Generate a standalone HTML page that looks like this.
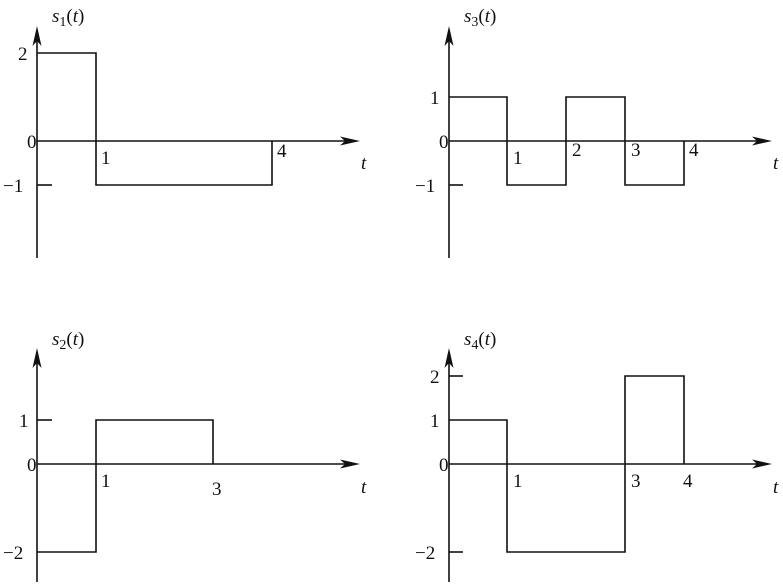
<!DOCTYPE html>
<html><head><meta charset="utf-8"><style>
html,body{margin:0;padding:0;background:#fff;}
svg{display:block}
</style></head><body>
<svg width="783" height="586" viewBox="0 0 783 586" xmlns="http://www.w3.org/2000/svg" font-family="Liberation Serif, serif" font-size="19" fill="#111">
<defs>
<g id="arrR"><path d="M0,0 L-20,-4.5 L-15,0 L-20,4.5 Z" fill="#111"/></g>
<g id="arrU"><path d="M0,0 L-4.5,20 L0,15 L4.5,20 Z" fill="#111"/></g>
</defs>
<g stroke="#111" stroke-width="1.6" fill="none">
<line x1="37" y1="258" x2="37" y2="30"/><line x1="37" y1="141" x2="345" y2="141"/>
<line x1="37" y1="185" x2="52" y2="185"/>
<polyline points="37,53 96,53 96,185 272,185 272,141"/>
<line x1="449" y1="258" x2="449" y2="30"/><line x1="449" y1="141" x2="757" y2="141"/>
<line x1="449" y1="185" x2="463" y2="185"/>
<polyline points="449,97 507,97 507,185 566,185 566,97 625,97 625,185 684,185 684,141"/>
<line x1="37" y1="582" x2="37" y2="352"/><line x1="37" y1="464" x2="345" y2="464"/>
<line x1="37" y1="420" x2="52" y2="420"/>
<polyline points="37,552 96,552 96,420 213,420 213,464"/>
<line x1="449" y1="582" x2="449" y2="352"/><line x1="449" y1="464" x2="757" y2="464"/>
<line x1="449" y1="376" x2="463" y2="376"/><line x1="449" y1="552" x2="463" y2="552"/>
<polyline points="449,420 507,420 507,552 625,552 625,376 684,376 684,464"/>
</g>
<use href="#arrU" x="37" y="26"/><use href="#arrR" x="360" y="141"/>
<use href="#arrU" x="449" y="26"/><use href="#arrR" x="772" y="141"/>
<use href="#arrU" x="37" y="348"/><use href="#arrR" x="360" y="464"/>
<use href="#arrU" x="449" y="348"/><use href="#arrR" x="772" y="464"/>

<text x="52" y="22" font-style="italic">s<tspan font-size="14" dy="4" font-style="normal">1</tspan><tspan dy="-4" font-style="normal">(</tspan>t<tspan font-style="normal">)</tspan></text>
<text x="18" y="60">2</text><text x="27" y="148">0</text><text x="3" y="192">−1</text>
<text x="101" y="164">1</text><text x="277" y="157">4</text><text x="361" y="169" font-style="italic">t</text>

<text x="464" y="22" font-style="italic">s<tspan font-size="14" dy="4" font-style="normal">3</tspan><tspan dy="-4" font-style="normal">(</tspan>t<tspan font-style="normal">)</tspan></text>
<text x="430" y="104">1</text><text x="439" y="148">0</text><text x="415" y="192">−1</text>
<text x="513" y="164">1</text><text x="572" y="156">2</text><text x="631" y="156">3</text><text x="689" y="156">4</text>
<text x="773" y="169" font-style="italic">t</text>

<text x="52" y="345" font-style="italic">s<tspan font-size="14" dy="4" font-style="normal">2</tspan><tspan dy="-4" font-style="normal">(</tspan>t<tspan font-style="normal">)</tspan></text>
<text x="19" y="427">1</text><text x="27" y="471">0</text><text x="3" y="559">−2</text>
<text x="101" y="487">1</text><text x="212" y="495">3</text><text x="361" y="493" font-style="italic">t</text>

<text x="464" y="345" font-style="italic">s<tspan font-size="14" dy="4" font-style="normal">4</tspan><tspan dy="-4" font-style="normal">(</tspan>t<tspan font-style="normal">)</tspan></text>
<text x="430" y="383">2</text><text x="430" y="427">1</text><text x="439" y="471">0</text><text x="415" y="559">−2</text>
<text x="513" y="487">1</text><text x="631" y="487">3</text><text x="683" y="487">4</text>
<text x="773" y="493" font-style="italic">t</text>
</svg>
</body></html>
